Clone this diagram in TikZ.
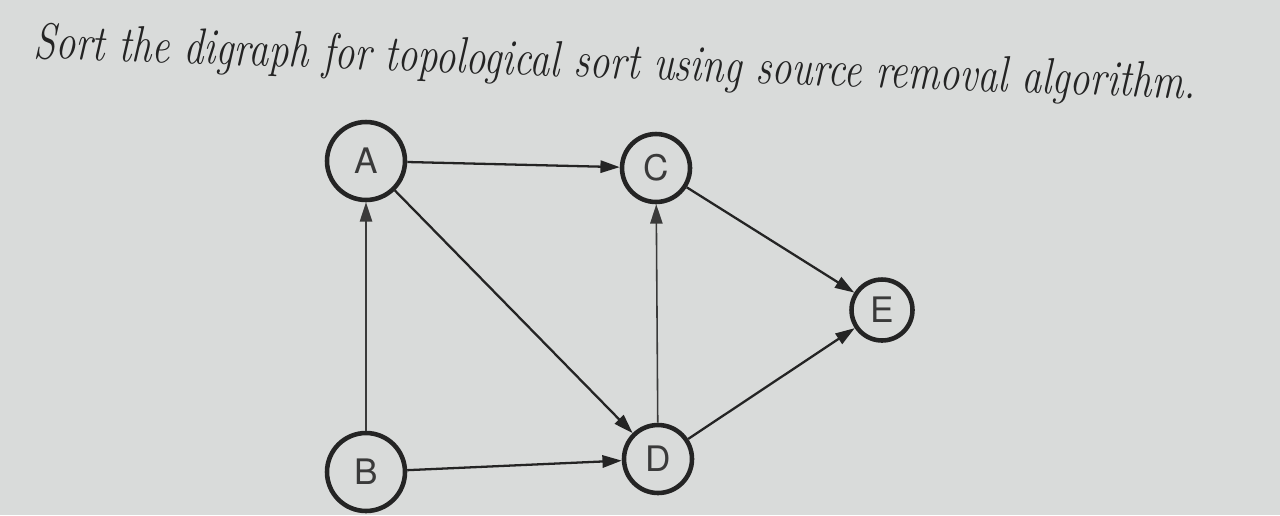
\documentclass[tikz,border=0pt]{standalone}
\usepackage{fontspec}
\usepackage{tikz}
\usetikzlibrary{calc,arrows.meta}
\newfontfamily\labfont{TeX Gyre Heros}
\definecolor{paper}{HTML}{D9DBDA}
\definecolor{ink}{HTML}{242424}
\definecolor{inkgray}{HTML}{3A3A3A}
\tikzset{
  vtx/.style={circle, draw=ink, line width=2.6pt, fill=paper, text=inkgray,
    font=\labfont\fontsize{20}{22}\selectfont, inner sep=0pt},
  big/.style={vtx, minimum size=1.56cm},
  mid/.style={vtx, minimum size=1.36cm},
  small/.style={vtx, minimum size=1.22cm},
  arc/.style={-{Triangle[length=11pt,width=7pt]}, draw=ink, line width=1.3pt},
  thinarc/.style={arc, draw=inkgray, line width=0.9pt},
  title/.style={text=ink, anchor=base west, inner sep=0pt, rotate=-2}
}
\begin{document}
\begin{tikzpicture}[x=0.02cm, y=-0.02cm]
  % page
  \fill[paper] (0,0) rectangle (1280,515);
  \useasboundingbox (0,0) rectangle (1280,515);

  % heading
  \node[title] (head) at (33,58)
    {\scalebox{0.785}[1]{\fontsize{29}{32}\selectfont\itshape Sort the digraph for topological sort using source removal algorithm.}};

  % vertices
  \node[big]   (A) at (366,161) {A};
  \node[mid]   (C) at (656,168) {C};
  \node[big]   (B) at (366,472) {B};
  \node[mid]   (D) at (658,459) {D};
  \node[small] (E) at (882,310) {E};

  % edges
  \draw[arc] (A) -- (C);
  \draw[arc] (A) -- (D);
  \draw[arc] (B) -- (D);
  \draw[thinarc] (B) -- (A);
  \draw[thinarc] (D) -- (C);
  \draw[arc] (C) -- (E);
  \draw[arc] (D) -- (E);
\end{tikzpicture}
\end{document}
